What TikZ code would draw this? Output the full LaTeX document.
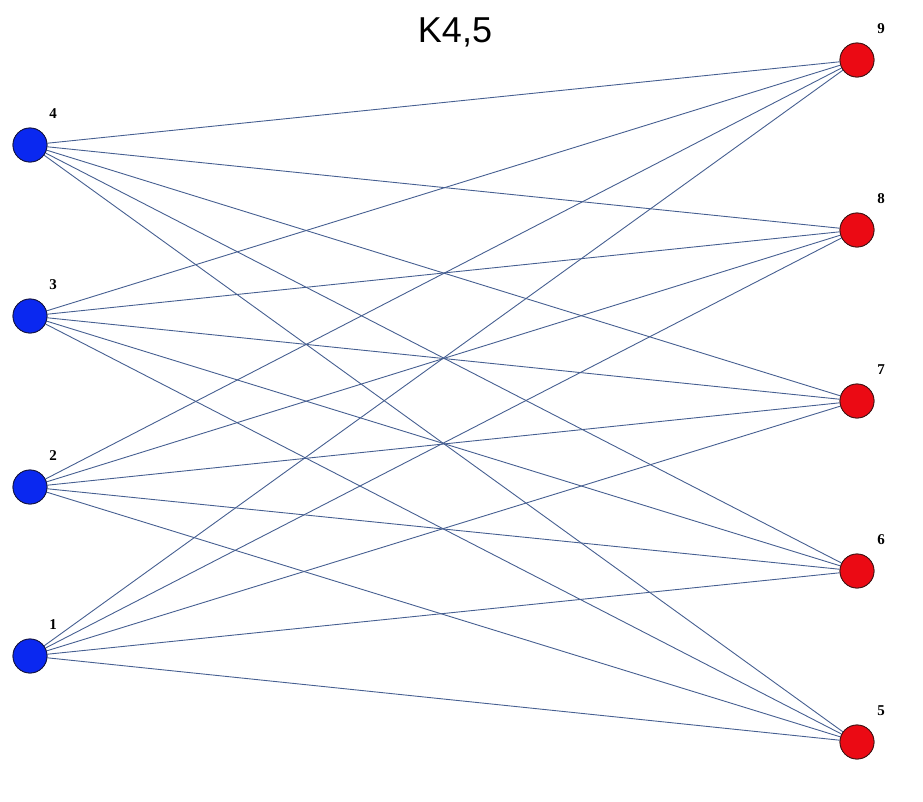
\documentclass[tikz,border=0pt]{standalone}
\usepackage{fontspec}
\setmainfont{Liberation Serif}
\newfontfamily\titlefont{Liberation Sans}
\begin{document}
\begin{tikzpicture}[x=1pt,y=-1pt,
  edge/.style={draw={rgb,255:red,70;green,95;blue,145},line width=0.9pt},
  lv/.style={circle,draw={rgb,255:red,20;green,20;blue,60},fill={rgb,255:red,10;green,40;blue,240},minimum size=34pt,inner sep=0pt,line width=0.8pt},
  rv/.style={circle,draw={rgb,255:red,60;green,20;blue,20},fill={rgb,255:red,235;green,10;blue,20},minimum size=34pt,inner sep=0pt,line width=0.8pt},
  lab/.style={font=\bfseries\fontsize{15}{15}\selectfont,inner sep=0pt}]
\useasboundingbox (0,0) rectangle (923,801);
\node[font=\titlefont\fontsize{36}{36}\selectfont] (t) at (455,32) {K4,5};
\foreach \n/\y in {4/145,3/316,2/487,1/656}{
  \node[lv] (v\n) at (30,\y) {};
  \node[lab] (l\n) at (53,\y-31) {\n};}
\foreach \n/\y in {9/60,8/230,7/401,6/571,5/742}{
  \node[rv] (v\n) at (857,\y) {};
  \node[lab] (l\n) at (881,\y-31) {\n};}
\begin{scope}[on background layer/.style={}]
\foreach \a in {1,2,3,4}{\foreach \b in {5,6,7,8,9}{\draw[edge] (v\a) -- (v\b);}}
\end{scope}
\foreach \n/\y in {4/145,3/316,2/487,1/656}{\node[lv] at (v\n) {};}
\foreach \n/\y in {9/60,8/230,7/401,6/571,5/742}{\node[rv] at (v\n) {};}
\end{tikzpicture}
\end{document}
